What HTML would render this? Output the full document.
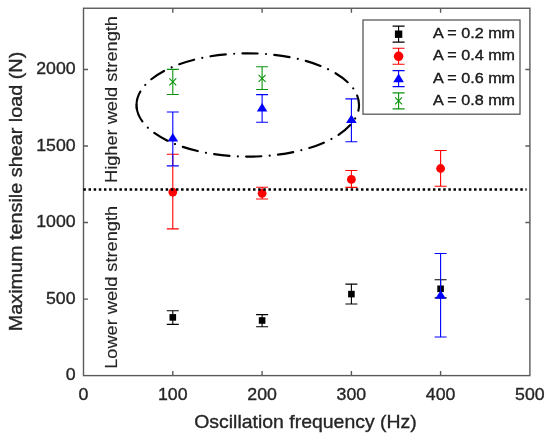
<!DOCTYPE html>
<html>
<head>
<meta charset="utf-8">
<style>
html,body{margin:0;padding:0;background:#fff;}
body{width:550px;height:438px;overflow:hidden;}
svg{display:block;filter:blur(0.4px);}
text{font-family:"Liberation Sans",sans-serif;fill:#262626;stroke:#262626;stroke-width:0.35px;}
text[fill="#000"]{stroke:#000;}
text.rl{stroke-width:0.12px;}
</style>
</head>
<body>
<svg width="550" height="438" viewBox="0 0 550 438">
<rect x="0" y="0" width="550" height="438" fill="#fff"/>

<!-- axes box -->
<g stroke="#5a5a5a" stroke-width="1.4" fill="none">
  <rect x="83.5" y="8.25" width="446.4" height="367.35"/>
  <!-- bottom ticks -->
  <path d="M172.8 375.6V371.1M262.1 375.6V371.1M351.4 375.6V371.1M440.6 375.6V371.1"/>
  <!-- top ticks -->
  <path d="M172.8 8.25V12.75M262.1 8.25V12.75M351.4 8.25V12.75M440.6 8.25V12.75"/>
  <!-- left ticks -->
  <path d="M83.5 299.1H88M83.5 222.5H88M83.5 146H88M83.5 69.5H88"/>
  <!-- right ticks -->
  <path d="M529.9 299.1H525.4M529.9 222.5H525.4M529.9 146H525.4M529.9 69.5H525.4"/>
</g>

<!-- y tick labels -->
<g font-size="17" text-anchor="end" lengthAdjust="spacingAndGlyphs">
  <text x="75.6" y="74" textLength="39.4" lengthAdjust="spacingAndGlyphs">2000</text>
  <text x="75.6" y="150.5" textLength="39.4" lengthAdjust="spacingAndGlyphs">1500</text>
  <text x="75.6" y="227" textLength="39.4" lengthAdjust="spacingAndGlyphs">1000</text>
  <text x="75.6" y="303.6" textLength="29.6" lengthAdjust="spacingAndGlyphs">500</text>
  <text x="75.6" y="380.1" textLength="9.9" lengthAdjust="spacingAndGlyphs">0</text>
</g>
<!-- x tick labels -->
<g font-size="17" text-anchor="middle">
  <text x="83.5" y="400.3" textLength="9.9" lengthAdjust="spacingAndGlyphs">0</text>
  <text x="172.8" y="400.3" textLength="29.6" lengthAdjust="spacingAndGlyphs">100</text>
  <text x="262.1" y="400.3" textLength="29.6" lengthAdjust="spacingAndGlyphs">200</text>
  <text x="351.4" y="400.3" textLength="29.6" lengthAdjust="spacingAndGlyphs">300</text>
  <text x="440.6" y="400.3" textLength="29.6" lengthAdjust="spacingAndGlyphs">400</text>
  <text x="529.9" y="400.3" textLength="29.6" lengthAdjust="spacingAndGlyphs">500</text>
</g>

<!-- axis labels -->
<text x="305.5" y="428.2" font-size="18.5" text-anchor="middle" textLength="222.5" lengthAdjust="spacingAndGlyphs">Oscillation frequency (Hz)</text>
<text transform="translate(21.7 191.5) rotate(-90)" font-size="18.5" text-anchor="middle" textLength="279.5" lengthAdjust="spacingAndGlyphs">Maximum tensile shear load (N)</text>

<!-- region labels -->
<text class="rl" transform="translate(116.8 99.5) rotate(-90)" font-size="17" text-anchor="middle" textLength="167" lengthAdjust="spacingAndGlyphs" fill="#000">Higher weld strength</text>
<text class="rl" transform="translate(116.8 287.35) rotate(-90)" font-size="17" text-anchor="middle" textLength="163" lengthAdjust="spacingAndGlyphs" fill="#000">Lower weld strength</text>

<!-- black series (square) -->
<g stroke="#000" stroke-width="1.1" fill="none">
  <path d="M172.8 310.7V324.4M166.8 310.7H178.8M166.8 324.4H178.8"/>
  <path d="M262.1 314.6V326.8M256.1 314.6H268.1M256.1 326.8H268.1"/>
  <path d="M351.4 284.1V304M345.4 284.1H357.4M345.4 304H357.4"/>
  <path d="M440.6 279.7V297.9M434.6 279.7H446.6M434.6 297.9H446.6"/>
</g>
<g fill="#000">
  <rect x="169.5" y="314.1" width="6.6" height="6.6"/>
  <rect x="258.8" y="317.2" width="6.6" height="6.6"/>
  <rect x="348.1" y="290.8" width="6.6" height="6.6"/>
  <rect x="437.3" y="285.5" width="6.6" height="6.6"/>
</g>

<!-- red series (circle) -->
<g stroke="#ff0000" stroke-width="1.1" fill="none">
  <path d="M172.8 154.2V228.9M166.8 154.2H178.8M166.8 228.9H178.8"/>
  <path d="M262.1 187.2V199M256.1 187.2H268.1M256.1 199H268.1"/>
  <path d="M351.4 170.5V187.4M345.4 170.5H357.4M345.4 187.4H357.4"/>
  <path d="M440.6 150.5V186.2M434.6 150.5H446.6M434.6 186.2H446.6"/>
</g>
<g fill="#ff0000">
  <circle cx="172.8" cy="192.1" r="4.4"/>
  <circle cx="262.1" cy="193.3" r="4.4"/>
  <circle cx="351.4" cy="179.4" r="4.4"/>
  <circle cx="440.6" cy="168.5" r="4.4"/>
</g>

<!-- blue series (triangle) -->
<g stroke="#0000ff" stroke-width="1.1" fill="none">
  <path d="M172.8 112V165.9M166.8 112H178.8M166.8 165.9H178.8"/>
  <path d="M262.1 94.6V122.2M256.1 94.6H268.1M256.1 122.2H268.1"/>
  <path d="M351.4 98.9V141.7M345.4 98.9H357.4M345.4 141.7H357.4"/>
  <path d="M440.6 253.5V337M434.6 253.5H446.6M434.6 337H446.6"/>
</g>
<g fill="#0000ff">
  <path d="M172.8 132.9L178.1 141.5H167.5Z"/>
  <path d="M262.1 103L267.4 111.6H256.8Z"/>
  <path d="M351.4 114.4L356.7 123H346.1Z"/>
  <path d="M440.6 290.2L445.9 298.8H435.3Z"/>
</g>

<!-- green series (x) -->
<g stroke="#0c930c" stroke-width="1.1" fill="none">
  <path d="M172.8 69.4V94.5M166.8 69.4H178.8M166.8 94.5H178.8"/>
  <path d="M262.1 66.7V89.5M256.1 66.7H268.1M256.1 89.5H268.1"/>
  <path d="M169.3 78.4L176.3 85.4M176.3 78.4L169.3 85.4"/>
  <path d="M258.6 74.9L265.6 81.9M265.6 74.9L258.6 81.9"/>
</g>

<!-- dotted threshold line -->
<path d="M83.4 189.5H526.6" stroke="#000" stroke-width="2.5" stroke-dasharray="2.5 2.64" fill="none"/>

<!-- dash-dot ellipse -->
<path d="M136.52 104.96A111.26 51.64 0 0 1 359.04 104.96A111.26 51.64 0 0 1 136.52 104.96" fill="none" stroke="#000" stroke-width="2.15" stroke-linecap="round" stroke-dasharray="15.4 8.3 0.01 8.29" stroke-dashoffset="1.295"/>
<path d="M136.94 109.45A111.26 51.64 0 0 1 136.525 104.46" fill="none" stroke="#000" stroke-width="2.15"/>

<!-- legend -->
<rect x="363" y="20" width="157" height="94.2" fill="#fff" stroke="#5a5a5a" stroke-width="1.3"/>
<g stroke-width="1.1" fill="none">
  <path d="M398.6 26.1V42.1M392.6 26.1H404.6M392.6 42.1H404.6" stroke="#000"/>
  <path d="M398.6 48.3V64.3M392.6 48.3H404.6M392.6 64.3H404.6" stroke="#ff0000"/>
  <path d="M398.6 70.6V86.6M392.6 70.6H404.6M392.6 86.6H404.6" stroke="#0000ff"/>
  <path d="M398.6 92.9V108.9M392.6 92.9H404.6M392.6 108.9H404.6" stroke="#0c930c"/>
  <path d="M395.1 97.4L402.1 104.4M402.1 97.4L395.1 104.4" stroke="#0c930c"/>
</g>
<rect x="394.9" y="30.5" width="7.4" height="7.4" fill="#000"/>
<circle cx="398.6" cy="56.3" r="4.75" fill="#ff0000"/>
<path d="M398.6 73.6L403.9 82.2H393.3Z" fill="#0000ff"/>
<g font-size="15">
  <text x="433" y="38.1" textLength="82" lengthAdjust="spacingAndGlyphs" fill="#000">A = 0.2 mm</text>
  <text x="433" y="60.4" textLength="82" lengthAdjust="spacingAndGlyphs" fill="#000">A = 0.4 mm</text>
  <text x="433" y="82.7" textLength="82" lengthAdjust="spacingAndGlyphs" fill="#000">A = 0.6 mm</text>
  <text x="433" y="105" textLength="82" lengthAdjust="spacingAndGlyphs" fill="#000">A = 0.8 mm</text>
</g>
</svg>
</body>
</html>
